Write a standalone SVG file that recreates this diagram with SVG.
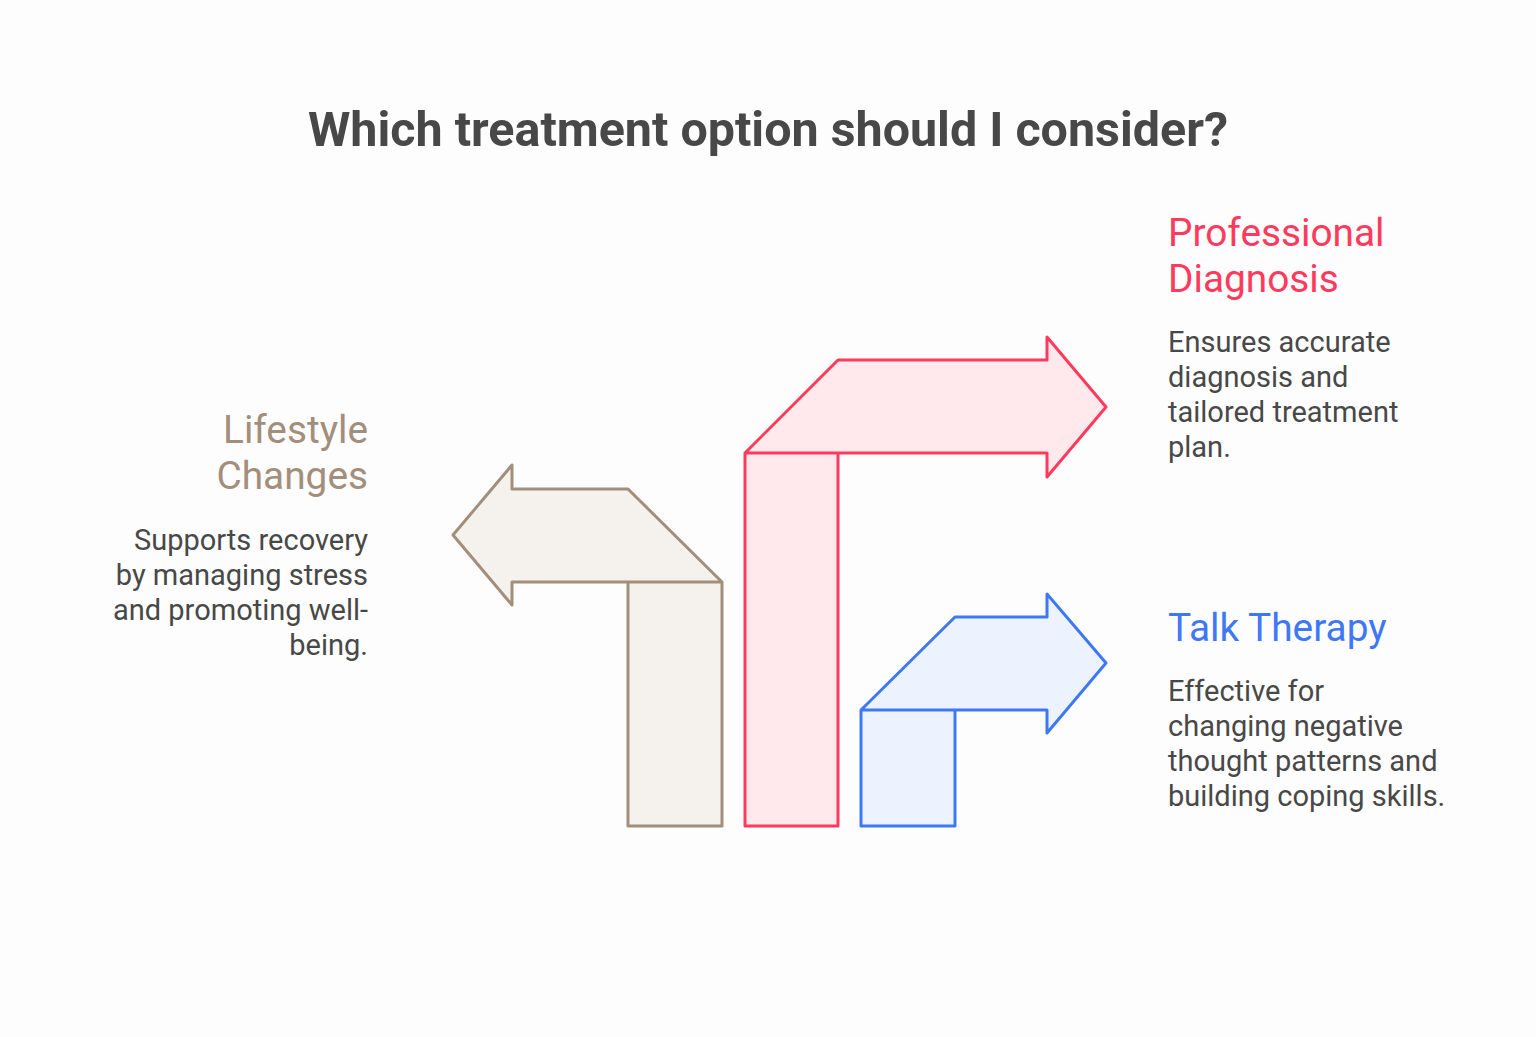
<svg xmlns="http://www.w3.org/2000/svg" width="1536" height="1037" viewBox="0 0 1536 1037">
<style>
.title{font-family:Roboto,"Liberation Sans",sans-serif;font-weight:700;font-size:49px;fill:#484848}
.head{font-family:Roboto,"Liberation Sans",sans-serif;font-size:38.8px}
.desc{font-family:Roboto,"Liberation Sans",sans-serif;font-size:29px;fill:#484848}
.arrow{stroke-width:3;stroke-linejoin:round}
</style>
<rect width="1536" height="1037" fill="#fdfdfd"/>
<text class="title" x="768" y="146" text-anchor="middle" textLength="920" lengthAdjust="spacingAndGlyphs">Which treatment option should I consider?</text>
<g id="connectors">
<path id="arrow-lifestyle" class="arrow" fill="#f5f1ec" stroke="#a38e7b" d="M628,826 L628,582 L512,582 L512,605 L453,535 L512,465 L512,489 L628,489 L722,582 L722,826 Z M628,582 L722,582"/>
<path id="arrow-professional" class="arrow" fill="#ffe9ec" stroke="#ff3a5c" d="M745,826 L745,453 L838,360 L1047,360 L1047,337 L1106,407 L1047,477 L1047,453 L838,453 L838,826 Z M745,453 L838,453"/>
<path id="arrow-talk" class="arrow" fill="#edf2ff" stroke="#3f78f5" d="M861,826 L861,710 L955,617 L1047,617 L1047,594 L1106,663 L1047,733 L1047,710 L955,710 L955,826 Z M861,710 L955,710"/>
</g>
<g id="node-professional">
<text class="head" fill="#ff3a5c" x="1168" y="246">Professional</text>
<text class="head" fill="#ff3a5c" x="1168" y="292">Diagnosis</text>
<text class="desc" x="1168" y="352">Ensures accurate</text>
<text class="desc" x="1168" y="387">diagnosis and</text>
<text class="desc" x="1168" y="422">tailored treatment</text>
<text class="desc" x="1168" y="457">plan.</text>
</g>
<g id="node-lifestyle" text-anchor="end">
<text class="head" fill="#a38e7b" x="368" y="443">Lifestyle</text>
<text class="head" fill="#a38e7b" x="368" y="489">Changes</text>
<text class="desc" x="368" y="550">Supports recovery</text>
<text class="desc" x="368" y="585">by managing stress</text>
<text class="desc" x="368" y="620">and promoting well-</text>
<text class="desc" x="368" y="655">being.</text>
</g>
<g id="node-talk">
<text class="head" fill="#3f78f5" x="1168" y="641">Talk Therapy</text>
<text class="desc" x="1168" y="701">Effective for</text>
<text class="desc" x="1168" y="736">changing negative</text>
<text class="desc" x="1168" y="771">thought patterns and</text>
<text class="desc" x="1168" y="806">building coping skills.</text>
</g>
</svg>
